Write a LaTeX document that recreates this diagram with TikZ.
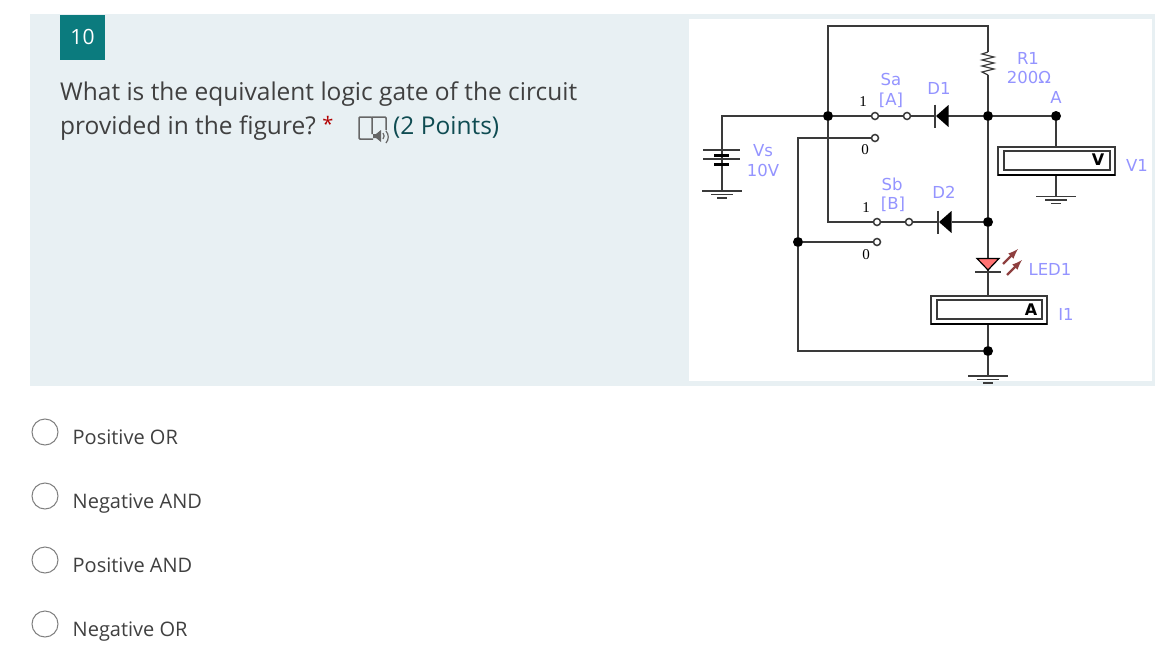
\documentclass[tikz,border=0pt]{standalone}
\usepackage{fontspec}
\setmainfont{Open Sans}
\newfontfamily\cktfont{DejaVu Sans}
\newfontfamily\numfont{Liberation Serif}
\usetikzlibrary{positioning}
\definecolor{panelblue}{HTML}{E8F0F3}
\definecolor{tealbox}{HTML}{0B7B7E}
\definecolor{darktext}{HTML}{404040}
\definecolor{pointcol}{HTML}{0F4C52}
\definecolor{labelblue}{HTML}{9494FF}
\definecolor{wirecol}{HTML}{3A3A3A}
\definecolor{ledarrow}{HTML}{8E3F3F}
\tikzset{
wire/.style={line width=1.8pt,draw=wirecol},
plate/.style={line width=1.6pt,draw=wirecol},
dot/.style={circle,fill=black,inner sep=0pt,minimum size=10pt},
term/.style={circle,draw=wirecol,fill=white,line width=1.5pt,inner sep=0pt,minimum size=7pt},
clabel/.style={text=labelblue,font=\cktfont\fontsize{16.5}{16.5}\selectfont,inner sep=0pt},
numlabel/.style={font=\numfont\fontsize{15}{15}\selectfont,inner sep=0pt,text=black},
meter/.style={draw=wirecol,line width=2pt,fill=white},
metertext/.style={inner sep=0pt,font=\cktfont\fontsize{16}{16}\selectfont\bfseries},
question/.style={anchor=base west,inner sep=0pt,font=\fontsize{24.5}{24.5}\selectfont},
choice/.style={font=\fontsize{20}{20}\selectfont,text=darktext,anchor=base west,inner sep=0pt},
radio/.style={circle,draw=black!50,line width=1pt,fill=white,minimum size=26pt,inner sep=0pt}
}
\begin{document}
\begin{tikzpicture}[x=1pt,y=-1pt]
\useasboundingbox (0,0) rectangle (1171,664);
\fill[white] (0,0) rectangle (1171,664);
\fill[panelblue] (30,14) rectangle (1155,386);
\fill[white] (689,19) rectangle (1152,381);
\node (num) at (82.5,37) [fill=tealbox,minimum size=45pt,inner sep=0pt,text=white,font=\fontsize{21}{21}\selectfont] {10};
\node (q1) at (60,100.5) [question,text=darktext] {What is the equivalent logic gate of the circuit};
\node (q2) at (60,134.5) [question,text=darktext] {provided in the figure?};
\node (star) at (328,124) [inner sep=0pt,text=red!70!black,font=\fontsize{20}{20}\selectfont] {*};
\node (pts) at (393,134.5) [question,text=pointcol] {(2 Points)};
% reader icon
\draw[black!60,line width=1.5pt,rounded corners=1pt] (373,139) -- (359,139) -- (359,117) -- (372,117) -- (372,134);
\draw[black!60,line width=1.5pt,rounded corners=1pt] (372,117) -- (386,117) -- (386,130);
\fill[black!60] (373,134) -- (376,134) -- (381,130) -- (381,142) -- (376,138) -- (373,138) -- cycle;
\draw[black!60,line width=1.2pt] (383,133) to[bend left=40] (383,139);
\draw[black!60,line width=1.2pt] (386,131) to[bend left=40] (386,143);
% choices
\foreach \y/\t [count=\i] in {432/Positive OR,496/Negative AND,560/Positive AND,624/Negative OR} {
\node (radio\i) at (45,\y) [radio] {};
\node (choice\i) at (72.5,\y+12) [choice] {\t};
}
% circuit nodes
\node (ja) at (828,116) [dot] {};
\node (jb) at (988,116) [dot] {};
\node (jout) at (1056,116) [dot] {};
\node (jc) at (988,222) [dot] {};
\node (jd) at (798,242) [dot] {};
\node (je) at (988,351) [dot] {};
\coordinate (topl) at (828,26);
\coordinate (topr) at (988,26);
\coordinate (batt) at (722,116);
\node (sa1) at (875,116) [term] {};
\node (sa2) at (907,116) [term] {};
\node (sa0) at (875,138) [term] {};
\node (sb1) at (877,222) [term] {};
\node (sb2) at (909,222) [term] {};
\node (sb0) at (877,242) [term] {};
% wires
\draw[wire] (ja) -- (topl) -- (topr) -- (988,52);
\draw[wire] (988,75) -- (jb);
\draw[wire] (722,150) -- (batt) -- (ja) -- (sa1);
\draw[wire] (sa1) -- (sa2) -- (935,116);
\draw[wire] (948,116) -- (jb) -- (jout);
\draw[wire] (jb) -- (jc) -- (988,258);
\draw[wire] (988,270) -- (988,296);
\draw[wire] (988,324) -- (je);
\draw[wire] (sa0) -- (798,138) -- (jd) -- (798,351) -- (je) -- (988,376);
\draw[wire] (jd) -- (sb0);
\draw[wire] (ja) -- (828,222) -- (sb1);
\draw[wire] (sb1) -- (sb2) -- (938,222);
\draw[wire] (952,222) -- (jc);
% resistor
\draw[line width=1.2pt,draw=wirecol] (988,52) -- (982,54) -- (994,57) -- (982,60) -- (994,63) -- (982,66) -- (994,69) -- (982,72) -- (988,75);
% battery
\draw[wire] (722,150) -- (722,191);
\draw[plate] (703,150) -- (740,150);
\draw[line width=3pt,draw=black] (714,155) -- (729,155);
\draw[plate] (703,159) -- (740,159);
\draw[line width=3pt,draw=black] (714,164) -- (729,164);
% grounds
\foreach \gx/\gy in {722/191,1056/196.5,988/376} {
\draw[plate] (\gx-20,\gy) -- (\gx+20,\gy);
\draw[plate] (\gx-11,\gy+3.5) -- (\gx+11,\gy+3.5);
\draw[plate] (\gx-5,\gy+7) -- (\gx+5,\gy+7);
}
% diodes
\foreach \dx/\dy in {935/116,938/222} {
\draw[line width=1.8pt,draw=wirecol] (\dx,\dy-11.5) -- (\dx,\dy+11.5);
\fill[black] (\dx+1,\dy) -- (\dx+13.5,\dy-11) -- (\dx+13.5,\dy+11) -- cycle;
}
% led
\draw[line width=1.2pt,draw=black,fill=red!55] (977,258.5) -- (999,258.5) -- (988,270) -- cycle;
\draw[plate] (975,272) -- (1001,272);
\draw[-latex,line width=2.4pt,draw=ledarrow] (1003,264) -- (1018,249);
\draw[-latex,line width=2.4pt,draw=ledarrow] (1007,275) -- (1022,260);
% meters
\draw[wire] (jout) -- (1056,147);
\draw[wire] (1056,175) -- (1056,196.5);
\draw[meter] (998,147) rectangle (1115,175);
\draw[line width=2.6pt,draw=black] (998,175) -- (1115,175);
\draw[line width=1.6pt,draw=wirecol] (1004,151) rectangle (1110,170);
\node (vm) at (1098,160) [metertext] {V};
\draw[meter] (931,296) rectangle (1047,324);
\draw[line width=2.6pt,draw=black] (931,324) -- (1047,324);
\draw[line width=1.6pt,draw=wirecol] (937,300) rectangle (1042,319);
\node (am) at (1031,310) [metertext] {A};
% labels
\node (lsa) at (891,79) [clabel] {Sa};
\node (lsak) at (891,100) [clabel] {[A]};
\node (ld1) at (939,88) [clabel] {D1};
\node (lr1) at (1028,58) [clabel] {R1};
\node (lr1v) at (1029,77) [clabel] {200Ω};
\node (lout) at (1056,97) [clabel] {A};
\node (lvs) at (763,151) [clabel] {Vs};
\node (lvsv) at (763,170) [clabel] {10V};
\node (lsb) at (892,184) [clabel] {Sb};
\node (lsbk) at (893,204) [clabel] {[B]};
\node (ld2) at (944,192) [clabel] {D2};
\node (lv1) at (1137,165) [clabel] {V1};
\node (lled) at (1050,269) [clabel] {LED1};
\node (li1) at (1066,314) [clabel] {I1};
\node (la1) at (863,102) [numlabel] {1};
\node (la0) at (865,150) [numlabel] {0};
\node (lb1) at (866,208) [numlabel] {1};
\node (lb0) at (866,255) [numlabel] {0};
\end{tikzpicture}
\end{document}
